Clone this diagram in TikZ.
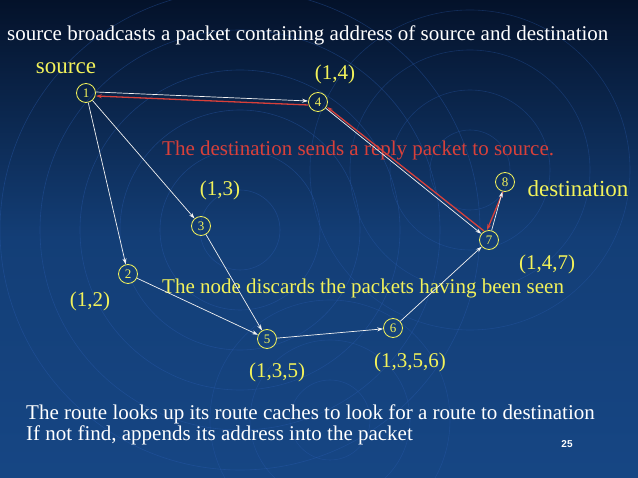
\documentclass[tikz,border=0pt]{standalone}
\usepackage{fontspec}
\setmainfont{Liberation Serif}
\setsansfont{Liberation Sans}
\usetikzlibrary{arrows.meta}
\definecolor{ylw}{HTML}{F2F25A}
\definecolor{rd}{HTML}{D8403A}
\definecolor{bgtop}{HTML}{04122A}
\definecolor{bgbot}{HTML}{164684}
\definecolor{ring}{HTML}{2A5CB0}
\begin{document}
\begin{tikzpicture}[x=1pt,y=-1pt,
  nd/.style={circle,draw=ylw,line width=0.8pt,minimum size=19pt,inner sep=0pt,text=ylw,font=\fontsize{13}{13}\selectfont},
  lab/.style={text=ylw,font=\fontsize{21}{21}\selectfont,inner sep=0pt},
  wa/.style={draw=white!90!gray,line width=0.7pt,-{Stealth[length=6pt,width=4pt]}},
  ra/.style={draw=rd,line width=1.3pt,-{Stealth[length=6pt,width=4pt]}}]
\shade[top color=bgtop,bottom color=bgbot,middle color=bgbot!85!bgtop] (0,0) rectangle (638,478);
\useasboundingbox (0,0) rectangle (638,478);
\begin{scope}
\clip (0,0) rectangle (638,478);
\foreach \r in {40,80,120,160,200,240} {\draw[ring,opacity=0.4,line width=0.6pt] (240,230) circle (\r);}
\foreach \r in {40,80,120,160} {\draw[ring,opacity=0.35,line width=0.6pt] (470,170) circle (\r);}
\foreach \r in {40,80,120} {\draw[ring,opacity=0.35,line width=0.6pt] (330,420) circle (\r);}
\end{scope}
\node[text=white,font=\fontsize{21}{21}\selectfont,inner sep=0pt,anchor=west] (title) at (7,35) {source broadcasts a packet containing address of source and destination};
\node[nd] (n1) at (86,93) {1};
\node[nd] (n4) at (318,102) {4};
\node[nd] (n3) at (201,226) {3};
\node[nd] (n2) at (128,274) {2};
\node[nd] (n5) at (267,339) {5};
\node[nd] (n6) at (393,328) {6};
\node[nd] (n7) at (489,240) {7};
\node[nd] (n8) at (505,182) {8};
\node[lab,font=\fontsize{23}{23}\selectfont] (src) at (66,68) {source};
\node[lab,font=\fontsize{23}{23}\selectfont] (dst) at (578,189) {destination};
\node[lab] (l4) at (335,74) {(1,4)};
\node[lab] (l3) at (220,190) {(1,3)};
\node[lab] (l2) at (90,301) {(1,2)};
\node[lab] (l5) at (277,372) {(1,3,5)};
\node[lab] (l6) at (410,362) {(1,3,5,6)};
\node[lab] (l7) at (547,264) {(1,4,7)};
\node[text=rd,font=\fontsize{21}{21}\selectfont,inner sep=0pt,anchor=west] (t1) at (162,150) {The destination sends a reply packet to source.};
\node[lab,anchor=west] (t2) at (162,288) {The node discards the packets having been seen};
\node[text=white,font=\fontsize{21}{21}\selectfont,inner sep=0pt,align=left,anchor=north west] (t3) at (26,405) {The route looks up its route caches to look for a route to destination\\If not find, appends its address into the packet};
\node[text=white,font=\sffamily\bfseries\fontsize{10}{10}\selectfont] (pg) at (567,444) {25};
\draw[ra] ([xshift=-2pt]n8.south) -- ([xshift=-2pt]n7.north);
\draw[ra] ([xshift=2pt,yshift=2pt]n7.north west) -- ([xshift=2pt,yshift=2pt]n4.south east);
\draw[ra] ([yshift=-3pt]n4.west) -- ([yshift=-3pt]n1.east);
\draw[wa] ([yshift=1pt]n1.east) -- ([yshift=1pt]n4.west);
\draw[wa] (n1) -- (n3);
\draw[wa] (n1) -- (n2);
\draw[wa] (n2) -- (n5);
\draw[wa] (n3) -- (n5);
\draw[wa] (n5) -- (n6);
\draw[wa] (n6) -- (n7);
\draw[wa] (n4) -- (n7);
\draw[wa] (n7) -- (n8);
\end{tikzpicture}
\end{document}
